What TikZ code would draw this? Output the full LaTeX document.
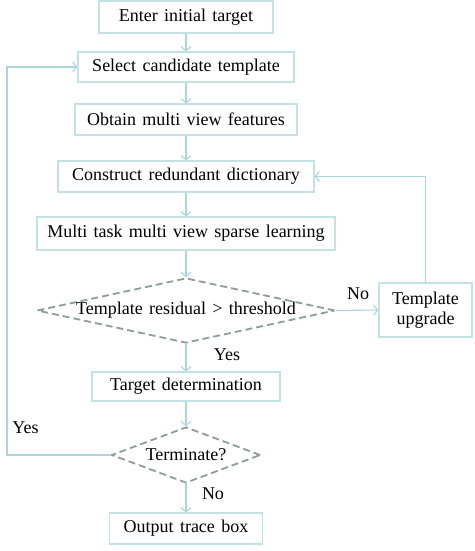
\documentclass[tikz,border=0pt]{standalone}
\usepackage{fontspec}
\setmainfont{Liberation Serif}[WordSpace=1.4]
\usetikzlibrary{shapes.geometric,arrows.meta}
\definecolor{boxline}{HTML}{C3E2E6}
\definecolor{arrowline}{HTML}{ACD6DC}
\definecolor{dashline}{HTML}{8E9C9C}
\tikzset{
  >={Straight Barb[length=4pt,width=10pt]},
  stepbox/.style = {
    draw=boxline, line width=1.3pt, inner sep=0pt,
    font=\fontsize{18}{20}\selectfont
  },
  decision/.style = {
    draw=dashline, line width=1.8pt, dash pattern=on 7pt off 4pt,
    shape=diamond, inner sep=0pt,
    font=\fontsize{18}{20}\selectfont
  },
  flow/.style = {->, draw=arrowline, line width=1.1pt},
  tag/.style = {font=\fontsize{18}{20}\selectfont}
}

\begin{document}
\begin{tikzpicture}[x=1pt,y=-1pt]
  \useasboundingbox (0,0) rectangle (474,551);
  % main column
  \pgfmathsetmacro{\cx}{186}
  \node[stepbox, minimum width=174, minimum height=32] (enter) at (\cx,17) {Enter initial target};
  \node[stepbox, minimum width=216, minimum height=30] (select) at (\cx,67) {Select candidate template};
  \node[stepbox, minimum width=222, minimum height=31] (obtain) at (\cx,119.5) {Obtain multi view features};
  \node[stepbox, minimum width=256, minimum height=31] (construct) at (\cx,176.5) {Construct redundant dictionary};
  \node[stepbox, minimum width=298, minimum height=33] (learn) at (\cx,233.5) {Multi task multi view sparse learning};
  \node[decision, minimum width=298, minimum height=65] (residual) at (\cx,310.5) {\makebox[0pt]{Template residual > threshold}};
  \node[stepbox, minimum width=188, minimum height=29] (determine) at (\cx,386.5) {Target determination};
  \node[decision, minimum width=149, minimum height=56] (terminate) at (\cx,455) {\makebox[0pt]{Terminate?}};
  \node[stepbox, minimum width=153, minimum height=31] (output) at (\cx,528.5) {Output trace box};
  % side box
  \node[stepbox, minimum width=93, minimum height=54, align=center] (upgrade) at (425.5,310) {Template\\upgrade};
  % turning points
  \coordinate (leftbot) at (7,455);
  \coordinate (lefttop) at (7,67);
  \coordinate (righttop) at (425.5,176.5);
  % arrows
  \draw[flow] (enter) -- (select);
  \draw[flow] (select) -- (obtain);
  \draw[flow] (obtain) -- (construct);
  \draw[flow] (construct) -- (learn);
  \draw[flow] (learn) -- (residual);
  \draw[flow] (residual) -- (determine);
  \draw[flow] (determine) -- (terminate);
  \draw[flow] (terminate) -- (output);
  \draw[flow] (residual.east) -- (upgrade.west);
  \draw[flow] (upgrade.north) -- (righttop) -- (construct.east);
  \draw[flow] (terminate.west) -- (leftbot) -- (lefttop) -- (select.west);
  % labels
  \node[tag] (no1) at (358,294) {No};
  \node[tag] (yes1) at (227,355) {Yes};
  \node[tag] (yes2) at (25.5,428) {Yes};
  \node[tag] (no2) at (213,494) {No};
\end{tikzpicture}
\end{document}
